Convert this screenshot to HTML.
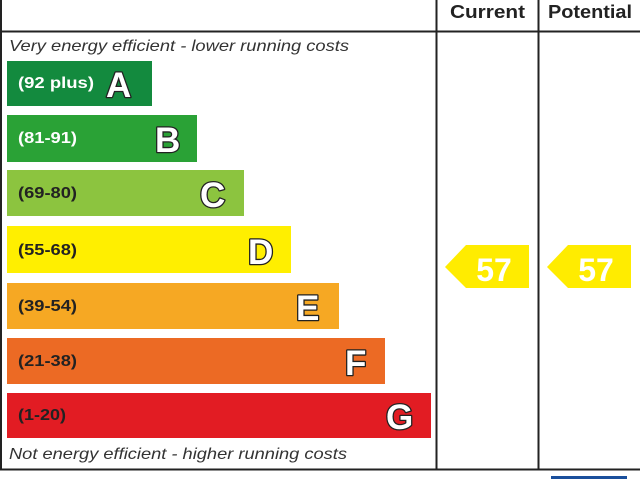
<!DOCTYPE html>
<html><head><meta charset="utf-8"><style>
html,body{margin:0;padding:0;background:#fff;}
svg{display:block;}
text{font-family:"Liberation Sans",sans-serif;}
.r{font-size:16px;font-weight:bold;}
.L{font-size:35px;font-weight:bold;fill:#fff;stroke:#222;stroke-width:2.6px;paint-order:stroke fill;stroke-linejoin:round;}
.i{font-size:16px;font-style:italic;fill:#333;}
</style></head><body>
<svg width="640" height="479" viewBox="0 0 640 479">
<rect width="640" height="479" fill="#fff"/>
<line x1="1" y1="0" x2="1" y2="470" stroke="#222" stroke-width="2"/>
<line x1="0" y1="31.5" x2="640" y2="31.5" stroke="#222" stroke-width="2"/>
<line x1="0" y1="469.5" x2="640" y2="469.5" stroke="#222" stroke-width="2"/>
<line x1="436.5" y1="0" x2="436.5" y2="470" stroke="#222" stroke-width="2"/>
<line x1="538.5" y1="0" x2="538.5" y2="470" stroke="#222" stroke-width="2"/>
<rect x="551" y="476" width="76" height="4" fill="#1a4f9c"/>
<text x="450" y="18" font-size="18" font-weight="bold" fill="#222" textLength="75" lengthAdjust="spacingAndGlyphs">Current</text>
<text x="548" y="18" font-size="18" font-weight="bold" fill="#222" textLength="84" lengthAdjust="spacingAndGlyphs">Potential</text>
<text class="i" x="9" y="51" textLength="340" lengthAdjust="spacingAndGlyphs">Very energy efficient - lower running costs</text>
<text class="i" x="9" y="459" textLength="338" lengthAdjust="spacingAndGlyphs">Not energy efficient - higher running costs</text>

<rect x="7" y="61" width="145" height="45" fill="#138a3e"/>
<text class="r" x="18" y="88" fill="#fff" textLength="76" lengthAdjust="spacingAndGlyphs">(92 plus)</text>
<text class="L" x="106" y="97">A</text>

<rect x="7" y="115" width="190" height="47" fill="#2aa236"/>
<text class="r" x="18" y="143" fill="#fff" textLength="59" lengthAdjust="spacingAndGlyphs">(81-91)</text>
<text class="L" x="155" y="152">B</text>

<rect x="7" y="170" width="237" height="46" fill="#8cc43f"/>
<text class="r" x="18" y="198" fill="#222" textLength="59" lengthAdjust="spacingAndGlyphs">(69-80)</text>
<text class="L" x="200" y="207">C</text>

<rect x="7" y="226" width="284" height="47" fill="#ffef00"/>
<text class="r" x="18" y="255" fill="#222" textLength="59" lengthAdjust="spacingAndGlyphs">(55-68)</text>
<text class="L" x="248" y="264">D</text>

<rect x="7" y="283" width="332" height="46" fill="#f6a823"/>
<text class="r" x="18" y="311" fill="#222" textLength="59" lengthAdjust="spacingAndGlyphs">(39-54)</text>
<text class="L" x="296" y="320">E</text>

<rect x="7" y="338" width="378" height="46" fill="#ec6a24"/>
<text class="r" x="18" y="366" fill="#222" textLength="59" lengthAdjust="spacingAndGlyphs">(21-38)</text>
<text class="L" x="345" y="375">F</text>

<rect x="7" y="393" width="424" height="45" fill="#e21c23"/>
<text class="r" x="18" y="420" fill="#222" textLength="48" lengthAdjust="spacingAndGlyphs">(1-20)</text>
<text class="L" x="386" y="429">G</text>

<polygon points="445,267 466,245 529,245 529,288 466,288" fill="#ffec00"/>
<text x="494" y="281" text-anchor="middle" font-size="32" font-weight="bold" fill="#fff">57</text>
<polygon points="547,267 568,245 631,245 631,288 568,288" fill="#ffec00"/>
<text x="596" y="281" text-anchor="middle" font-size="32" font-weight="bold" fill="#fff">57</text>
</svg>
</body></html>
